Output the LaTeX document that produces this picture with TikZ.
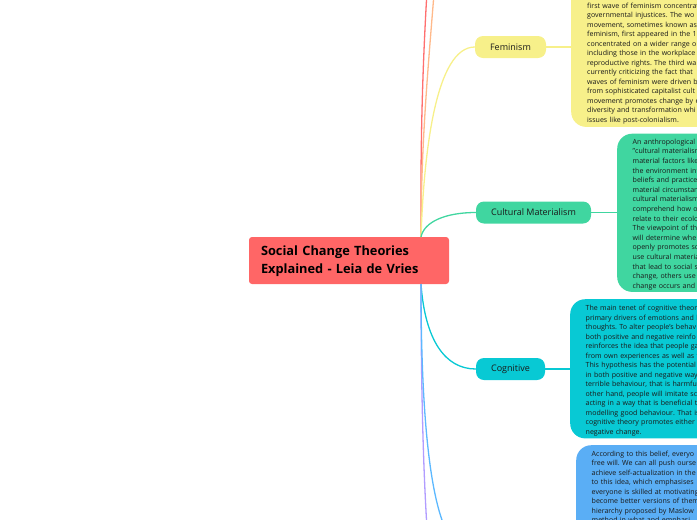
\documentclass[tikz,border=0pt]{standalone}
\usepackage{fontspec}
\setmainfont{Open Sans}
\definecolor{rootc}{HTML}{FF6666}
\definecolor{yel}{HTML}{F7F08A}
\definecolor{tea}{HTML}{40D6A0}
\definecolor{cya}{HTML}{08C9D4}
\definecolor{blu}{HTML}{5AAEF5}
\definecolor{ink}{HTML}{1A1A1A}
\definecolor{lnred}{HTML}{FF6F6F}
\definecolor{lnora}{HTML}{FFB98A}
\definecolor{lnvio}{HTML}{B19CFF}
\definecolor{lnblu}{HTML}{5CB8FF}
\tikzset{
  topic/.style={rounded corners=8pt,inner sep=0pt,minimum height=22pt,text=ink,font=\fontsize{9}{10}\selectfont},
  leaf/.style={rounded corners=15pt,anchor=north west,text width=200pt,align=left,inner xsep=15.5pt,inner ysep=3pt,text=ink,font=\frenchspacing\fontsize{7.05}{9.5}\selectfont},
  rootbox/.style={rounded corners=3pt,fill=rootc,inner sep=0pt,minimum width=200pt,minimum height=47pt,text width=176pt,align=left,text=black,font=\bfseries\fontsize{12.8}{18}\selectfont},
  link/.style={line width=1.3pt},
}
\begin{document}
\begin{tikzpicture}[x=1pt,y=-1pt]
\useasboundingbox (0,0) rectangle (697,520);
\coordinate (rt) at (421,237);
\coordinate (rb) at (421,284);
\coordinate (outa) at (426.5,0);
\coordinate (outb) at (433.5,0);
\coordinate (outc) at (426.5,520);
\coordinate (outd) at (442,520);
\node[rootbox] (root) at (349,260.5) {\rule{0pt}{11.7pt}Social Change Theories\\Explained - Leia de Vries};
\node[topic,fill=yel,minimum width=71pt] (fem) at (510.5,47) {Feminism};
\node[topic,fill=tea,minimum width=115pt] (cul) at (533.5,212.5) {Cultural Materialism};
\node[topic,fill=cya,minimum width=69pt] (cog) at (510.5,369) {Cognitive};
\node[leaf,fill=yel,inner xsep=16pt] (femt) at (571,-33) {\mbox{}\\\mbox{}\\\mbox{}\\\mbox{}\\first wave of feminism concentrat\\governmental injustices. The wo\\movement, sometimes known as\\feminism, first appeared in the 1\\concentrated on a wider range o\\including those in the workplace\\reproductive rights. The third wa\\currently criticizing the fact that\\waves of feminism were driven b\\from sophisticated capitalist cult\\movement promotes change by e\\diversity and transformation whi\\issues like post-colonialism.};
\node[leaf,fill=tea,font=\frenchspacing\fontsize{7.05}{9.6}\selectfont,inner ysep=2pt] (cult) at (617,133.5) {\rule{0pt}{8.5pt}An anthropological\\"cultural materialisn\\material factors like\\the environment int\\beliefs and practice\\material circumstan\\cultural materialism\\comprehend how o\\relate to their ecolo\\The viewpoint of th\\will determine whe\\openly promotes sc\\use cultural materia\\that lead to social s\\change, others use\\change occurs and};
\node[leaf,fill=cya,inner ysep=2.7pt] (cogt) at (570,299) {\rule{0pt}{8.6pt}The main tenet of cognitive theor\\primary drivers of emotions and b\\thoughts. To alter people's behav\\both positive and negative reinfo\\reinforces the idea that people ga\\from own experiences as well as t\\This hypothesis has the potential\\in both positive and negative way\\terrible behaviour, that is harmfu\\other hand, people will imitate sc\\acting in a way that is beneficial t\\modelling good behaviour. That is\\cognitive theory promotes either\\negative change.};
\node[leaf,fill=blu] (hum) at (576,445) {\rule{0pt}{7.8pt}According to this belief, everyo\\free will. We can all push ourse\\achieve self-actualization in the\\to this idea, which emphasises\\everyone is skilled at motivating\\become better versions of them\\hierarchy proposed by Maslow\\method in what and emphasi\\\mbox{}\\\mbox{}\\\mbox{}\\\mbox{}};
\draw[link,draw=lnred] (rt) .. controls (420.5,150) and (422,80) .. (outa);
\draw[link,draw=lnora] (rt) .. controls (421,150) and (427,80) .. (outb);
\draw[link,draw=yel] (rt) .. controls (424,150) and (436,47) .. (fem.west);
\draw[link,draw=tea] (rt) .. controls (424,222) and (445,212.5) .. (cul.west);
\draw[link,draw=cya] (rb) .. controls (425,340) and (445,369) .. (cog.west);
\draw[link,draw=lnvio] (rb) .. controls (421,380) and (423,460) .. (outc);
\draw[link,draw=lnblu] (rb) .. controls (421,400) and (428,480) .. (outd);
\draw[link,draw=yel] (fem.east) -- (fem.east -| femt.west);
\draw[link,draw=tea] (cul.east) -- (cul.east -| cult.west);
\draw[link,draw=cya] (cog.east) -- (cog.east -| cogt.west);
\end{tikzpicture}
\end{document}
